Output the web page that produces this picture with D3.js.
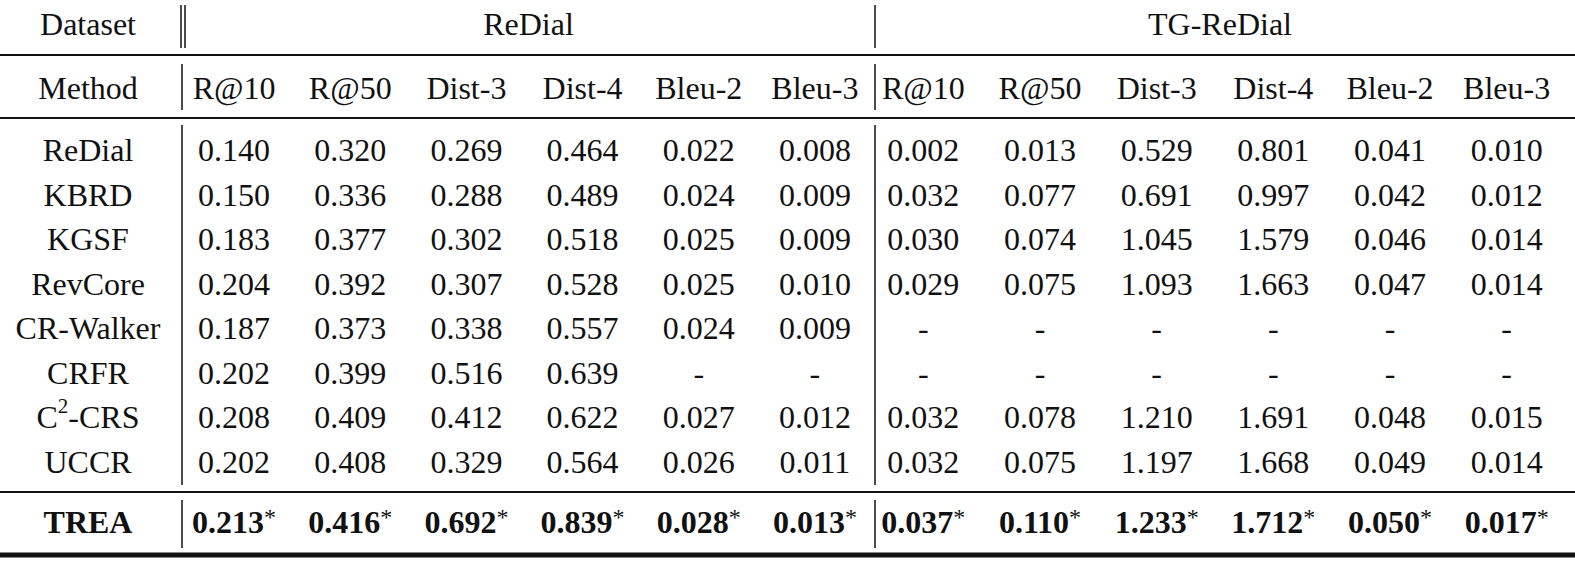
<!DOCTYPE html>
<html><head><meta charset="utf-8">
<script src="https://cdn.jsdelivr.net/npm/d3@7"></script>
<style>body{margin:0;background:#fff}text{font-family:"Liberation Serif","Times New Roman",serif;fill:#111}</style>
</head><body><div id="table"></div>
<script>
const datasets = ["ReDial", "TG-ReDial"];
const metrics = ["R@10", "R@50", "Dist-3", "Dist-4", "Bleu-2", "Bleu-3"];
const methods = ["ReDial", "KBRD", "KGSF", "RevCore", "CR-Walker", "CRFR", "C2-CRS", "UCCR"];
const values = [
  ["0.140","0.320","0.269","0.464","0.022","0.008","0.002","0.013","0.529","0.801","0.041","0.010"],
  ["0.150","0.336","0.288","0.489","0.024","0.009","0.032","0.077","0.691","0.997","0.042","0.012"],
  ["0.183","0.377","0.302","0.518","0.025","0.009","0.030","0.074","1.045","1.579","0.046","0.014"],
  ["0.204","0.392","0.307","0.528","0.025","0.010","0.029","0.075","1.093","1.663","0.047","0.014"],
  ["0.187","0.373","0.338","0.557","0.024","0.009","-","-","-","-","-","-"],
  ["0.202","0.399","0.516","0.639","-","-","-","-","-","-","-","-"],
  ["0.208","0.409","0.412","0.622","0.027","0.012","0.032","0.078","1.210","1.691","0.048","0.015"],
  ["0.202","0.408","0.329","0.564","0.026","0.011","0.032","0.075","1.197","1.668","0.049","0.014"]
];
const oursName = "TREA";
const oursValues = ["0.213","0.416","0.692","0.839","0.028","0.013","0.037","0.110","1.233","1.712","0.050","0.017"];

const W = 1575, H = 561;
const svg = d3.select("#table").append("svg").attr("width", W).attr("height", H);

// column scales: one per dataset
const xRe = d3.scaleBand().domain(metrics).range([176, 873]);
const xTg = d3.scaleBand().domain(metrics).range([865, 1565]);
const colX = i => (i < 6 ? xRe(metrics[i]) + xRe.bandwidth() / 2 : xTg(metrics[i - 6]) + xTg.bandwidth() / 2);
const methodX = 88;
const yRows = d3.scaleBand().domain(methods).range([128, 484]);
const fs = 32;

function cell(x, y, t, bold) {
  const el = svg.append("text").attr("x", x).attr("y", y).attr("text-anchor", "middle")
    .attr("dominant-baseline", "central").attr("font-size", fs).attr("font-weight", bold ? "bold" : null);
  return el.text(t);
}
function hline(y, w) { svg.append("line").attr("x1", 0).attr("x2", W).attr("y1", y).attr("y2", y).attr("stroke", "#111").attr("stroke-width", w); }
function vline(x, y1, y2) { svg.append("line").attr("x1", x).attr("x2", x).attr("y1", y1).attr("y2", y2).attr("stroke", "#111").attr("stroke-width", 1.5); }

// header rows
cell(methodX, 24, "Dataset");
cell((182 + 875) / 2, 24, datasets[0]);
cell((875 + 1565) / 2, 24, datasets[1]);
cell(methodX, 88, "Method");
metrics.concat(metrics).forEach((m, i) => cell(colX(i), 88, m));

// body
methods.forEach((m, r) => {
  const y = yRows(m) + yRows.bandwidth() / 2;
  if (m === "C2-CRS") {
    const t = cell(methodX, y, "C");
    t.append("tspan").attr("font-size", 21).attr("dy", -11).text("2");
    t.append("tspan").attr("dy", 11).text("-CRS");
  } else cell(methodX, y, m);
  values[r].forEach((v, i) => cell(colX(i), y, v));
});

// our model row
cell(methodX, 522, oursName, true);
oursValues.forEach((v, i) => {
  const t = cell(colX(i), 522, v, true);
  t.append("tspan").attr("font-weight", "normal").attr("font-size", 24).attr("dy", -5).text("*");
});

// rules
hline(55, 2);
hline(118, 2);
hline(492, 2);
hline(555, 5);
vline(181, 5, 48); vline(185, 5, 48);
vline(182, 64, 110); vline(182, 125, 485); vline(182, 500, 548);
[[5, 48], [64, 110], [125, 485], [500, 548]].forEach(([a, b]) => vline(875, a, b));
</script></body></html>
